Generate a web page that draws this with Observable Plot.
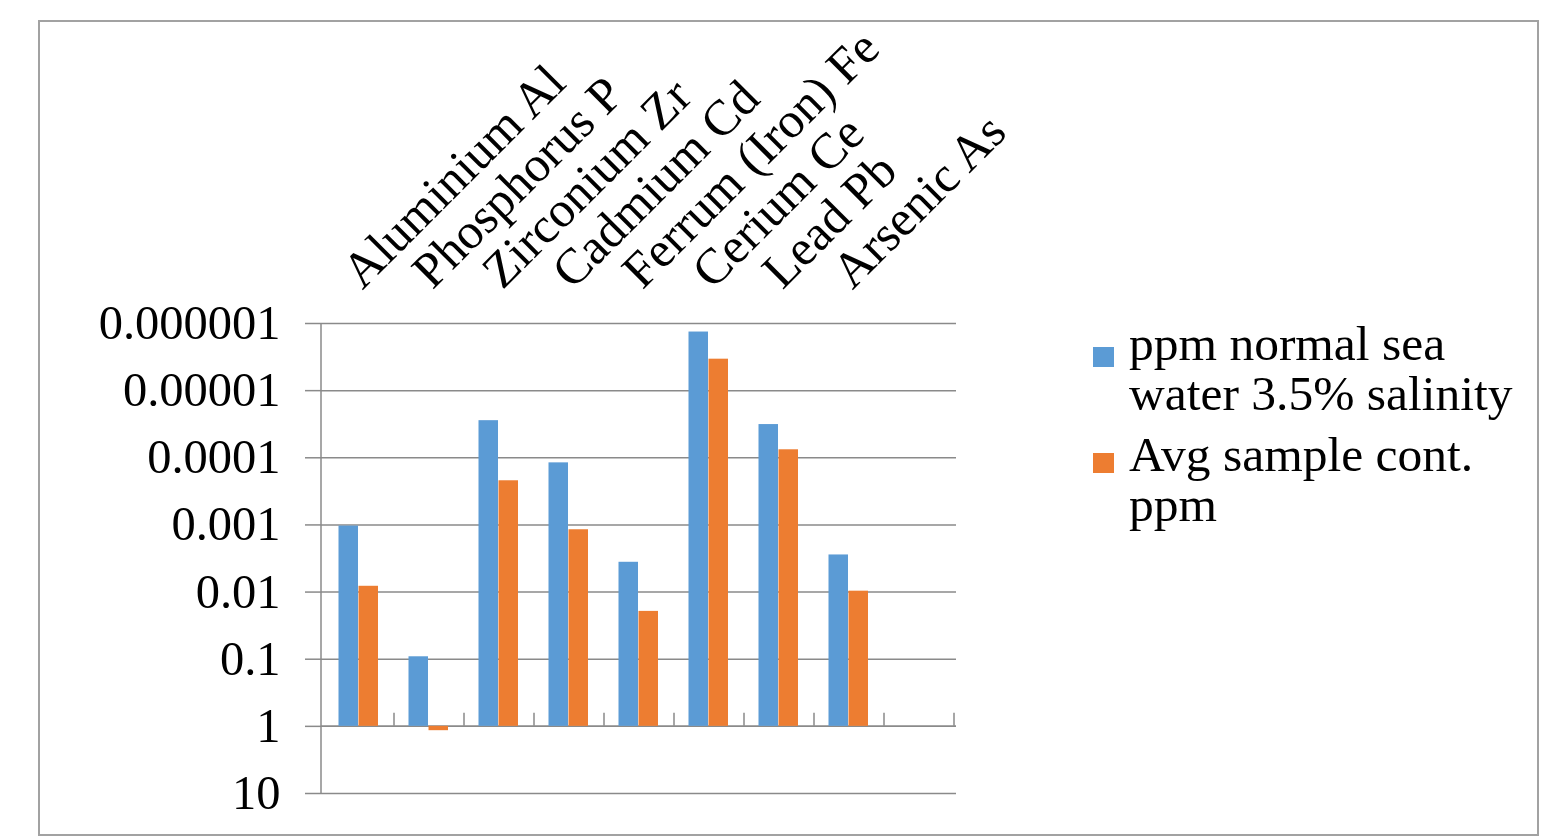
<!DOCTYPE html>
<html>
<head>
<meta charset="utf-8">
<script src="https://cdn.jsdelivr.net/npm/d3@7"></script>
<script src="https://cdn.jsdelivr.net/npm/@observablehq/plot@0.6"></script>
<style>
  html, body { margin: 0; padding: 0; background: #fff; }
  body { width: 1554px; height: 840px; position: relative; overflow: hidden; font-family: "Liberation Serif", "Times New Roman", serif; }
  #chart { position: absolute; left: 0; top: 0; }
  #border { position: absolute; left: 38px; top: 20px; width: 1501px; height: 816px; border: 2px solid #a2a2a2; box-sizing: border-box; pointer-events: none; }
  .sw { position: absolute; width: 21px; height: 20px; }
  .lt { position: absolute; left: 1129px; width: 412px; font-size: 49.5px; line-height: 50px; color: #000; }
</style>
</head>
<body>
<div id="chart"></div>
<div id="border"></div>
<div id="legend"></div>
<script>
// ---- data ----
const elements = ["Aluminium Al", "Phosphorus P", "Zirconium Zr", "Cadmium Cd", "Ferrum (Iron) Fe", "Cerium Ce", "Lead Pb", "Arsenic As", ""];
const seriesNames = ["ppm normal sea water 3.5% salinity", "Avg sample cont. ppm"];
const seaWater = [0.00104, 0.092, 0.000028, 0.000119, 0.0036, 0.00000134, 0.000032, 0.0028];
const sampleAvg = [0.0082, 1.16, 0.00022, 0.00118, 0.0194, 0.0000034, 0.000076, 0.0097];
const yTicks = [0.000001, 0.00001, 0.0001, 0.001, 0.01, 0.1, 1, 10];
const yTickLabels = ["0.000001", "0.00001", "0.0001", "0.001", "0.01", "0.1", "1", "10"];
const baselineValue = 1;

const colors = ["#5B9BD5", "#ED7D31"];
const gridColor = "#8a8a8a";
const font = '"Liberation Serif", "Times New Roman", serif';

const rows = [];
seaWater.forEach((v, i) => rows.push({element: elements[i], series: seriesNames[0], value: v}));
sampleAvg.forEach((v, i) => rows.push({element: elements[i], series: seriesNames[1], value: v}));

function baselineTicks(index, scales, values, dimensions) {
  const {x, y} = scales;
  const {marginLeft, marginTop, marginBottom, height} = dimensions;
  const bw = x.bandwidth();
  const g = d3.create("svg:g").attr("stroke", gridColor).attr("stroke-width", 1.5);
  g.append("line").attr("x1", marginLeft).attr("x2", marginLeft)
    .attr("y1", marginTop).attr("y2", height - marginBottom);
  const y0 = y(baselineValue);
  for (const c of elements) {
    const xr = x(c) + bw;
    g.append("line").attr("x1", xr).attr("x2", xr).attr("y1", y0 - 13).attr("y2", y0);
  }
  return g.node();
}

const chart = Plot.plot({
  width: 1554,
  height: 840,
  marginLeft: 321,
  marginRight: 598,
  marginTop: 323,
  marginBottom: 47,
  style: {fontFamily: font, fontSize: "48px", color: "#000", background: "transparent"},
  x: {domain: elements, padding: 0, axis: null},
  y: {type: "log", domain: [10, 0.000001], label: null},
  marks: [
    Plot.gridY(yTicks, {stroke: gridColor, strokeOpacity: 1, strokeWidth: 1.5}),
    Plot.ruleY([baselineValue], {stroke: gridColor, strokeWidth: 1.5}),
    Plot.barY(rows.filter(d => d.series === seriesNames[0]), {
      x: "element", y1: baselineValue, y2: "value", fill: colors[0],
      insetLeft: 14.5, insetRight: 36
    }),
    Plot.barY(rows.filter(d => d.series === seriesNames[1]), {
      x: "element", y1: baselineValue, y2: "value", fill: colors[1],
      insetLeft: 34.5, insetRight: 16
    }),
    baselineTicks,
    Plot.axisY(yTicks, {
      anchor: "left",
      label: null,
      tickSize: 16,
      tickPadding: 25,
      stroke: gridColor,
      strokeWidth: 1.5,
      fontSize: 48.5,
      tickFormat: d => yTickLabels[yTicks.indexOf(d)]
    }),
    Plot.text(elements.filter(d => d !== ""), {
      x: d => d,
      frameAnchor: "top",
      dx: 3,
      dy: -33,
      rotate: -45,
      textAnchor: "start",
      lineAnchor: "bottom",
      fontSize: 50,
      fill: "#000"
    })
  ]
});
document.getElementById("chart").appendChild(chart);

// ---- legend ----
const legend = document.getElementById("legend");
const swatchTops = [347, 453];
const textTops = [319, 430];
seriesNames.forEach((name, i) => {
  const sw = document.createElement("div");
  sw.className = "sw";
  sw.style.left = "1093px";
  sw.style.top = swatchTops[i] + "px";
  sw.style.background = colors[i];
  legend.appendChild(sw);
  const t = document.createElement("div");
  t.className = "lt";
  t.style.top = textTops[i] + "px";
  t.textContent = name;
  legend.appendChild(t);
});
</script>
</body>
</html>
